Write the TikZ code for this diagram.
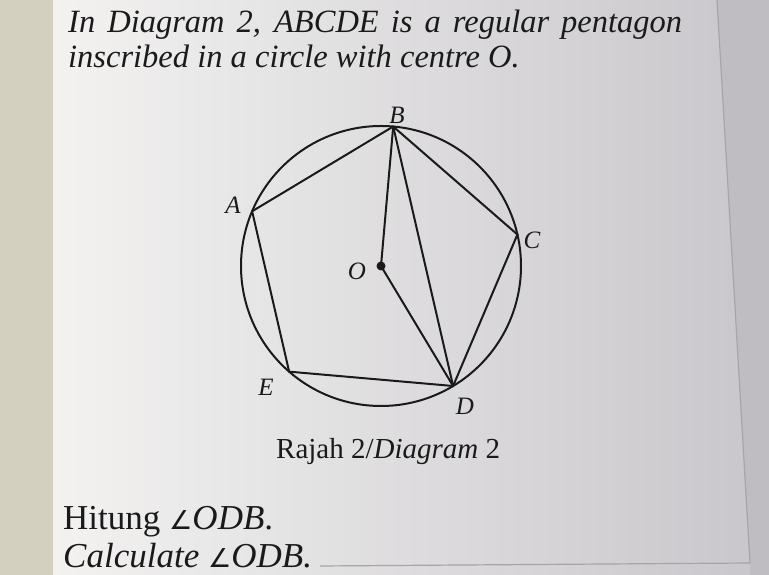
\documentclass[tikz,border=0pt]{standalone}
\usepackage{fontspec}
\setmainfont{Liberation Serif}
\newfontfamily\anglefont{DejaVu Sans}
\usetikzlibrary{calc}
\definecolor{stripcol}{HTML}{D4D0C0}
\definecolor{outcol}{HTML}{BFBDC1}
\definecolor{paperL}{HTML}{F3F2F1}
\definecolor{paperR}{HTML}{C9C7CB}
\definecolor{ink}{HTML}{1A1A1A}
\newcommand{\angsym}{{\anglefont\fontsize{26}{30}\selectfont ∠}}
\tikzset{
  geo/.style={draw=ink, line width=2pt},
  vlabel/.style={font=\fontsize{25}{30}\selectfont\itshape, text=ink, inner sep=0pt},
  textline/.style={anchor=base west, inner sep=0pt, text=ink}
}
\begin{document}
\begin{tikzpicture}[x=1pt,y=1pt]
\useasboundingbox (0,0) rectangle (769,575);
% page and frame
\fill[outcol] (0,0) rectangle (769,575);
\fill[stripcol] (0,0) rectangle (53,575);
\shade[left color=paperL, right color=paperR] (53,0) -- (53,575) -- (717,575) -- (750,12) -- (750,0) -- cycle;
\draw[gray!70, line width=1.2pt] (717,575) -- (750,12) -- (320,9);

% circle and pentagon
\coordinate (O) at (381,309);
\foreach \n/\a in {B/85, A/157, E/229, D/301, C/13}
  \coordinate (\n) at ($(O)+(\a:140)$);
\draw[geo] (O) circle (140);
\draw[geo] (A) -- (B) -- (C) -- (D) -- (E) -- cycle;
\draw[geo] (B) -- (O) -- (D);
\draw[geo] (B) -- (D);
\fill[ink] (O) circle (4.5);

\node[vlabel] (lB) at (397,460) {B};
\node[vlabel] (lA) at (233,370) {A};
\node[vlabel] (lC) at (532,335) {C};
\node[vlabel] (lO) at (357,304) {O};
\node[vlabel] (lE) at (266,188) {E};
\node[vlabel] (lD) at (465,169) {D};

% texts
\node[textline, font=\fontsize{32.5}{38}\selectfont\itshape] (line1) at (68,542)
  {\makebox[614pt][s]{In Diagram 2, ABCDE is a regular pentagon}};
\node[textline, font=\fontsize{32.5}{38}\selectfont\itshape] (line2) at (68,507)
  {inscribed in a circle with centre O.};
\node[textline, font=\fontsize{29}{34}\selectfont] (cap) at (276,116)
  {Rajah 2/\textit{Diagram} 2};
\node[textline, font=\fontsize{35}{40}\selectfont] (hit) at (63,45)
  {Hitung \angsym\textit{ODB}.};
\node[textline, font=\fontsize{35}{40}\selectfont\itshape] (calc) at (63,7)
  {Calculate \angsym ODB.};
\end{tikzpicture}
\end{document}
